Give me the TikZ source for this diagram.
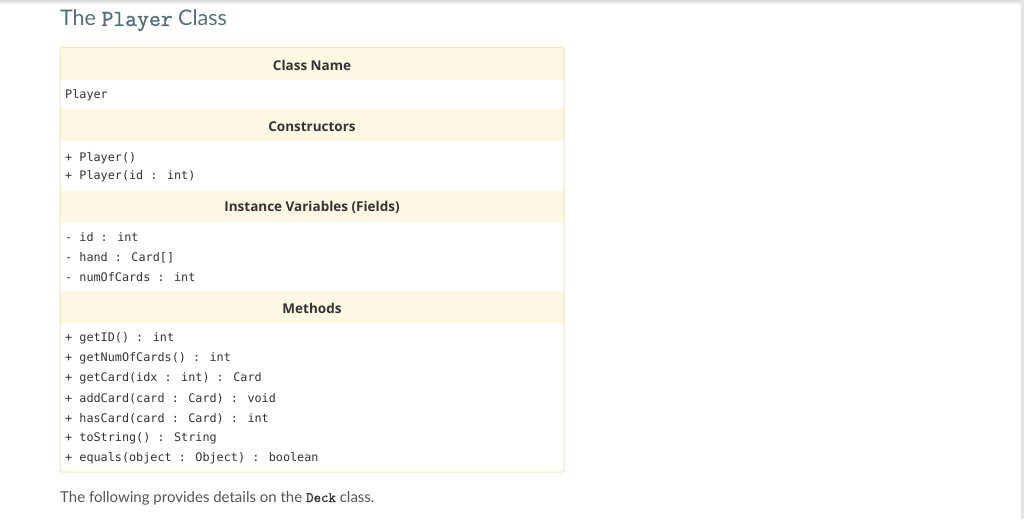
\documentclass[tikz,border=0pt]{standalone}
\usepackage{fontspec}
\setmainfont{Lato}
\newfontfamily\hdfont{Open Sans}
\newfontfamily\codefont{DejaVu Sans Mono}
\newfontfamily\slabmono[FakeBold=1.2]{Latin Modern Mono}
\usetikzlibrary{calc}
\definecolor{bandbg}{HTML}{FCF8E3}
\definecolor{boxborder}{HTML}{F5E5B5}
\definecolor{bodytext}{HTML}{333333}
\definecolor{titlecol}{HTML}{546E7A}
\definecolor{foottext}{HTML}{555555}
\tikzset{
  band/.style={fill=bandbg, draw=none},
  bandtext/.style={font=\hdfont\bfseries\fontsize{13.5}{15}\selectfont, text=bodytext, anchor=center, inner sep=0pt},
  rowtext/.style={font=\codefont\fontsize{11.8}{14}\selectfont, text=bodytext, anchor=west, inner sep=0pt},
}
\begin{document}
\begin{tikzpicture}[x=1pt,y=-1pt]
\useasboundingbox (0,0) rectangle (1024,519);
\fill[white] (0,0) rectangle (1024,519);
% top shadow
\shade[top color=black!14, bottom color=white] (0,0) rectangle (1024,5);
\fill[black!10] (1021,0) rectangle (1024,519);
% title
\node[anchor=base west, inner sep=0pt, text=titlecol, font=\fontsize{21.5}{24}\selectfont] (title) at (60,26)
  {The {\slabmono\fontsize{23}{24}\selectfont Player} Class};
% bands
\fill[band] (60,48) rectangle (564,80);
\fill[band] (60,109) rectangle (564,141);
\fill[band] (60,190) rectangle (564,222);
\fill[band] (60,291) rectangle (564,323);
% outer box
\draw[boxborder, line width=1pt, rounded corners=2pt] (60,47.5) rectangle (564,472);
% band labels
\node[bandtext] (hname) at (312,65) {Class Name};
\node[bandtext] (hcons) at (312,127) {Constructors};
\node[bandtext] (hvars) at (312,207.5) {Instance Variables (Fields)};
\node[bandtext] (hmeth) at (312,308.5) {Methods};
% rows
\node[rowtext] (r1) at (65,95.5) {Player};
\node[rowtext] (c1) at (65,158.5) {+ Player()};
\node[rowtext] (c2) at (65,176.5) {+ Player(id : int)};
\node[rowtext] (v1) at (65,237.5) {- id : int};
\node[rowtext] (v2) at (65,257.5) {- hand : Card[]};
\node[rowtext] (v3) at (65,277.5) {- numOfCards : int};
\node[rowtext] (m1) at (65,338.5) {+ getID() : int};
\node[rowtext] (m2) at (65,358.5) {+ getNumOfCards() : int};
\node[rowtext] (m3) at (65,378.5) {+ getCard(idx : int) : Card};
\node[rowtext] (m4) at (65,398.5) {+ addCard(card : Card) : void};
\node[rowtext] (m5) at (65,418.5) {+ hasCard(card : Card) : int};
\node[rowtext] (m6) at (65,438.5) {+ toString() : String};
\node[rowtext] (m7) at (65,458.5) {+ equals(object : Object) : boolean};
% footer
\node[anchor=base west, inner sep=0pt, text=foottext, font=\fontsize{15}{17}\selectfont] (foot) at (60,502)
  {The following provides details on the {\slabmono\color{bodytext}\fontsize{14.5}{16}\selectfont Deck} class.};
\end{tikzpicture}
\end{document}
